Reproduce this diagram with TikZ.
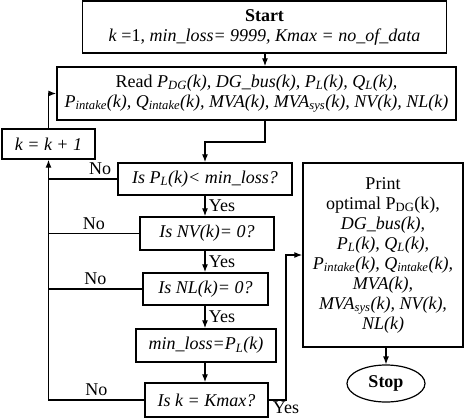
\documentclass[tikz,border=0pt]{standalone}
\usepackage{fontspec}
\setmainfont{Liberation Serif}
\usepackage{tikz}
\usetikzlibrary{arrows.meta, calc, positioning, shapes.geometric}
\newcommand{\sbs}[1]{\textsubscript{#1}}

\begin{document}
\begin{tikzpicture}
        [x=1pt, y=-1pt,
         font=\fontsize{18}{20}\selectfont,
         boxsty/.style={rectangle,
                        inner sep=0pt,
                        align=center,
                        line width=1.4pt,
                        draw=black},
         stopsty/.style={ellipse,
                         inner sep=0pt,
                         minimum width=78pt,
                         minimum height=37pt,
                         line width=1.2pt,
                         draw=black},
         line/.style={line width=1.2pt},
         post/.style={->, >={Latex[length=8pt, width=6pt]}, line width=1.2pt}]

        \useasboundingbox (0, 0) rectangle (474, 418);

        \node[boxsty, minimum width=364pt, minimum height=52pt] (start) at (264.5, 27)
                {\textbf{Start}\\\textit{k} =1, \textit{min\_loss= 9999, Kmax = no\_of\_data}};

        \node[boxsty, minimum width=399pt, minimum height=53pt] (read) at (256.5, 93.5)
                {Read \textit{P\sbs{DG}(k), DG\_bus(k), P\sbs{L}(k), Q\sbs{L}(k),}\\
                 \textit{P\sbs{intake}(k), Q\sbs{intake}(k), MVA(k), MVA\sbs{sys}(k), NV(k), NL(k)}};

        \node[boxsty, minimum width=93pt, minimum height=30pt] (kinc) at (48.5, 144)
                {\textit{k = k + 1}};

        \node[boxsty, minimum width=174pt, minimum height=32pt] (isPL) at (205, 179)
                {\textit{Is P\sbs{L}(k)< min\_loss?}};

        \node[boxsty, minimum width=134pt, minimum height=33pt] (isNV) at (207, 233.5)
                {\textit{Is NV(k)= 0?}};

        \node[boxsty, minimum width=125pt, minimum height=32pt] (isNL) at (205.5, 289)
                {\textit{Is NL(k)= 0?}};

        \node[boxsty, minimum width=140pt, minimum height=33pt] (minloss) at (206, 345.5)
                {\textit{min\_loss=P\sbs{L}(k)}};

        \node[boxsty, minimum width=123pt, minimum height=34pt] (kmax) at (206.5, 400)
                {\textit{Is k = Kmax?}};

        \node[boxsty, minimum width=160pt, minimum height=184pt] (print) at (383, 255)
                {Print\\optimal P\sbs{DG}(k),\\\textit{DG\_bus(k),}\\
                 \textit{P\sbs{L}(k), Q\sbs{L}(k),}\\\textit{P\sbs{intake}(k), Q\sbs{intake}(k),}\\
                 \textit{MVA(k),}\\\textit{MVA\sbs{sys}(k), NV(k),}\\\textit{NL(k)}};

        \node[stopsty] (stop) at (386, 383.5) {\textbf{Stop}};

        % main column
        \coordinate (read out) at (265, 142);
        \draw[post] (start.south -| read out) -- (read.north -| read out);
        \draw[post] (read.south -| read out) -- (read out) -| (isPL.north);
        \draw[post] (isPL.south) -- node[right] {Yes} (isPL.south |- isNV.north);
        \draw[post] (isPL.south |- isNV.south) -- node[right] {Yes} (isPL.south |- isNL.north);
        \draw[post] (isPL.south |- isNL.south) -- node[right] {Yes} (isPL.south |- minloss.north);
        \draw[post] (isPL.south |- minloss.south) -- (isPL.south |- kmax.north);

        % loop back
        \draw[post] (kinc.north) |- (read.west);
        \draw[post] (kmax.west) -- node[above] {No} (kmax.west -| kinc.south) -- (kinc.south);
        \draw[line] (isPL.west) -- node[above, pos=0.25] {No} (isPL.west -| kinc.south);
        \draw[line] (isNV.west) -- node[above] {No} (isNV.west -| kinc.south);
        \draw[line] (isNL.west) -- node[above] {No} (isNL.west -| kinc.south);

        % exit
        \coordinate (yes corner) at (286, 400);
        \draw[post] (kmax.east) -- (yes corner) |- (print.west |- 0, 255);
        \node[below, inner sep=2pt] at (yes corner) {Yes};
        \draw[post] (print.south -| stop.north) -- (stop.north);
\end{tikzpicture}
\end{document}
